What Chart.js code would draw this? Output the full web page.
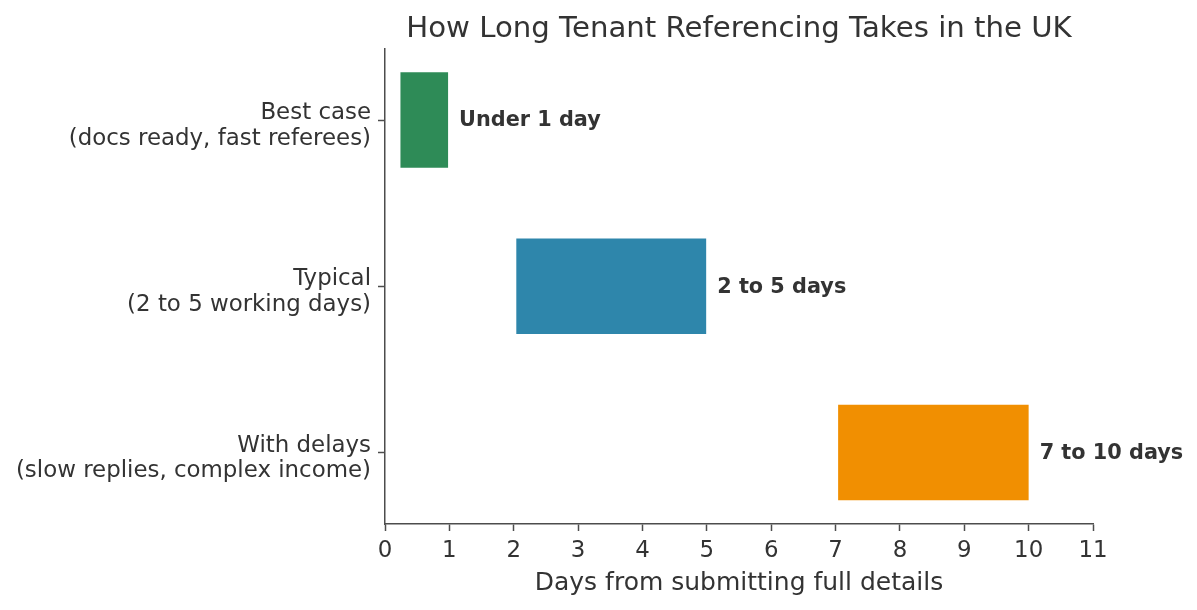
<!DOCTYPE html>
<html>
<head>
<meta charset="utf-8">
<script src="https://cdn.jsdelivr.net/npm/chart.js@4"></script>
<style>
html,body{margin:0;padding:0;background:#fff;}
#wrap{width:1197px;height:610px;position:relative;}
</style>
</head>
<body>
<div id="wrap"><canvas id="grafico" width="1197" height="610"></canvas></div>
<script>
// dados
const cenarios = [
  ["Best case", "(docs ready, fast referees)"],
  ["Typical", "(2 to 5 working days)"],
  ["With delays", "(slow replies, complex income)"]
];
const inicio = [0.24, 2.04, 7.04];
const fim = [0.98, 4.99, 10];
const rotulos = ["Under 1 day", "2 to 5 days", "7 to 10 days"];
const cores = ["#2E8B57", "#2E86AB", "#F18F01"];
const diasTicks = [0,1,2,3,4,5,6,7,8,9,10,11];

const txt = "#333333";
const eixo = "#4d4d4d";
const fonte = "'DejaVu Sans', sans-serif";

// rotulos no fim das barras
const rotuloBarra = {
  id: "rotuloBarra",
  afterDatasetsDraw(chart){
    const ctx = chart.ctx;
    const meta = chart.getDatasetMeta(0);
    ctx.save();
    ctx.font = "bold 20.8px " + fonte;
    ctx.fillStyle = txt;
    ctx.textAlign = "left";
    ctx.textBaseline = "middle";
    meta.data.forEach((bar, i) => {
      ctx.fillText(rotulos[i], bar.x + 11, bar.y + 1);
    });
    ctx.restore();
  }
};

new Chart(document.getElementById("grafico"), {
  type: "bar",
  data: {
    datasets: [{
      data: cenarios.map((c, i) => ({ x: [inicio[i], fim[i]], y: i })),
      backgroundColor: cores,
      borderWidth: 0,
      barPercentage: 0.575,
      categoryPercentage: 1
    }]
  },
  options: {
    indexAxis: "y",
    responsive: false,
    animation: false,
    layout: { padding: { left: 0, right: 104, top: 0, bottom: 0 } },
    plugins: {
      legend: { display: false },
      tooltip: { enabled: false },
      title: {
        display: true,
        fullSize: false,
        text: "How Long Tenant Referencing Takes in the UK",
        color: txt,
        font: { family: fonte, size: 29.2, weight: "normal", lineHeight: 1.2 },
        padding: { top: 12, bottom: 1.5 }
      }
    },
    scales: {
      x: {
        type: "linear",
        min: 0,
        max: 11,
        afterBuildTicks(s){ s.ticks = diasTicks.map(v => ({ value: v })); },
        afterFit(s){ s.height = 86; },
        ticks: {
          color: txt,
          font: { family: fonte, size: 22.9 },
          padding: 6,
          maxRotation: 0,
          autoSkip: false
        },
        grid: { drawOnChartArea: false, tickLength: 7, tickWidth: 1.5, tickColor: eixo },
        border: { display: true, color: eixo, width: 1.5 },
        title: {
          display: true,
          text: "Days from submitting full details",
          color: txt,
          font: { family: fonte, size: 25, lineHeight: 1.2 },
          padding: { top: 0, bottom: 12 }
        }
      },
      y: {
        type: "linear",
        reverse: true,
        offset: false,
        min: -0.43,
        max: 2.43,
        afterBuildTicks(s){ s.ticks = cenarios.map((c, i) => ({ value: i })); },
        afterFit(s){ s.width = 385; },
        ticks: {
          color: txt,
          font: { family: fonte, size: 22.9, lineHeight: 1.12 },
          padding: 7,
          labelOffset: 6,
          callback: v => cenarios[v]
        },
        grid: { offset: false, drawOnChartArea: false, tickLength: 7, tickWidth: 1.5, tickColor: eixo },
        border: { display: true, color: eixo, width: 1.5 }
      }
    }
  },
  plugins: [rotuloBarra]
});
</script>
</body>
</html>
